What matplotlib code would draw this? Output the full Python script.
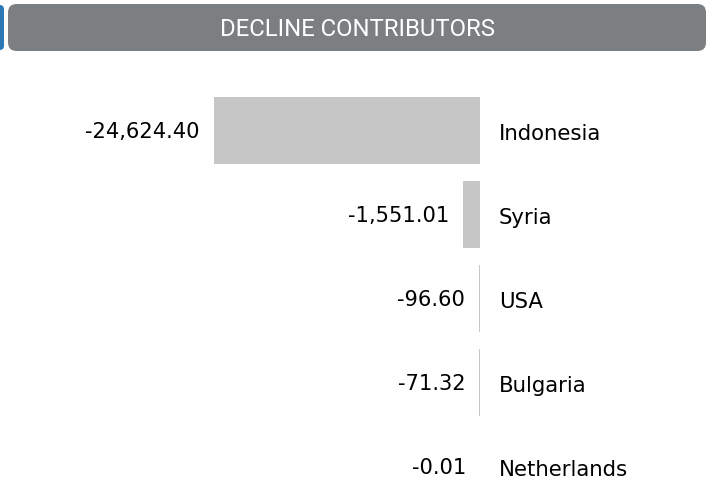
import matplotlib
matplotlib.use("Agg")
import matplotlib.pyplot as plt
from matplotlib.patches import FancyBboxPatch

title = "DECLINE CONTRIBUTORS"
countries = ["Indonesia", "Syria", "USA", "Bulgaria", "Netherlands"]
values = [-24624.40, -1551.01, -96.60, -71.32, -0.01]

W, H = 712, 497
fig = plt.figure(figsize=(W / 100, H / 100), dpi=100)
fig.patch.set_facecolor("white")

def fx(px):
    return px / W

def fy(py):
    return 1 - py / H

# header banner
banner = FancyBboxPatch((fx(8), fy(51)), fx(698), 47 / H,
                        boxstyle="round,pad=0,rounding_size=0.012",
                        transform=fig.transFigure, facecolor="#7c7f82",
                        edgecolor="none", mutation_aspect=W / H)
fig.patches.append(banner)
tab = FancyBboxPatch((fx(-6), fy(50)), fx(10), 45 / H,
                     boxstyle="round,pad=0,rounding_size=0.006",
                     transform=fig.transFigure, facecolor="#2b78b5",
                     edgecolor="none", mutation_aspect=W / H)
fig.patches.append(tab)
fig.text(fx(357), fy(29), title, color="white", fontsize=17.2,
         family="Roboto", ha="center", va="center")

# bar area: zero line at x=480, largest bar reaches x=214
row_h = 84
top_px = 130.5 - row_h / 2
ax = fig.add_axes([fx(214), 0, fx(480 - 214), fy(top_px)])
ax.set_xlim(min(values), 0)
ax.set_ylim((H - top_px) / row_h - 0.5, -0.5)
ax.axis("off")

ypos = list(range(len(countries)))
ax.barh(ypos, values, height=0.8, color="#c6c6c6", linewidth=0)

for y, v, c in zip(ypos, values, countries):
    ax.annotate(f"{v:,.2f}", xy=(v, y), xytext=(-14, -1),
                textcoords="offset pixels", ha="right", va="center",
                fontsize=15.1, color="black", family="DejaVu Sans",
                annotation_clip=False)
    ax.annotate(c, xy=(0, y), xytext=(19, -3),
                textcoords="offset pixels", ha="left", va="center",
                fontsize=15.3, color="black", family="DejaVu Sans",
                annotation_clip=False)

fig.savefig("out.png", dpi=100)
